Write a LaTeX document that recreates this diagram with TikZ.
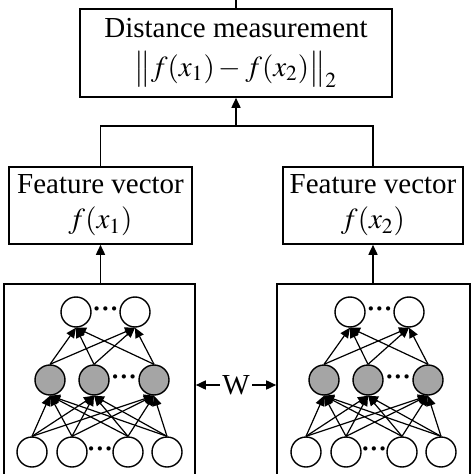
\documentclass[tikz,border=0pt]{standalone}
\usepackage{mathptmx}
\usepackage{fontspec}
\setmainfont{Liberation Serif}
\usetikzlibrary{arrows.meta}
\definecolor{nodegray}{RGB}{165,165,165}
\tikzset{
  arr/.style={-{Triangle[length=5pt, width=4.5pt]}, line width=0.8pt},
}

\begin{document}
\begin{tikzpicture}[x=0.5pt, y=-0.5pt, line width=0.8pt,
      every node/.style={font=\fontsize{14.5}{17.5}\selectfont},
      box/.style={draw, line width=0.8pt, align=center, inner sep=0pt},
      neuron/.style={circle, draw, line width=0.7pt, fill=white,
                     minimum size=15pt, inner sep=0pt},
      hidden/.style={neuron, fill=nodegray},
      dots/.style={font=\fontsize{13}{13}\selectfont\bfseries, inner sep=0pt},
    ]
    \clip (0,0) rectangle (474,474);

    % ─── Distance measurement (top) ────────────────────────────────────
    \node[box, minimum width=156pt, minimum height=44pt] (dist) at (236,53)
      {Distance measurement\\[2pt]
       $\bigl\| f(x_1)-f(x_2) \bigr\|_2$};
    \coordinate (top) at (236,0);
    \draw (dist.north) -- (top);

    % ─── Feature vectors ───────────────────────────────────────────────
    \node[box, minimum width=91.5pt, minimum height=38.5pt] (feat1) at (100.5,205.5)
      {Feature vector\\ $f(x_1)$};
    \node[box, minimum width=90pt, minimum height=38.5pt] (feat2) at (373,205.5)
      {Feature vector\\ $f(x_2)$};

    \coordinate (jn) at (236,126);
    \draw (feat1.north) |- (jn) -| (feat2.north);
    \draw[arr] (jn) -- (dist.south);

    % ─── Two networks sharing weights ──────────────────────────────────
    \node[box, minimum width=95.5pt, minimum height=103pt] (nn1) at (99.5,387) {};
    \node[box, minimum width=96.5pt, minimum height=103pt] (nn2) at (373.5,387) {};
    \draw[arr] (nn1.north -| feat1.south) -- (feat1.south);
    \draw[arr] (nn2.north -| feat2.south) -- (feat2.south);

    \node[inner sep=1pt] (w) at (236,385) {W};
    \draw[arr] (w.west) -- (w.west -| nn1.east);
    \draw[arr] (w.east) -- (w.east -| nn2.west);

    \foreach \s/\dx in {l/0, r/274} {
      % output layer
      \node[neuron] (\s-t1) at (76+\dx,312) {};
      \node[neuron] (\s-t2) at (135+\dx,312) {};
      \node[dots] (\s-td) at (105.5+\dx,312) {···};
      % hidden layer
      \node[hidden] (\s-m1) at (50+\dx,380) {};
      \node[hidden] (\s-m2) at (94+\dx,380) {};
      \node[hidden] (\s-m3) at (154+\dx,380) {};
      \node[dots] (\s-md) at (124+\dx,380) {···};
      % input layer
      \node[neuron] (\s-b1) at (32+\dx,452) {};
      \node[neuron] (\s-b2) at (72+\dx,452) {};
      \node[neuron] (\s-b3) at (128+\dx,452) {};
      \node[neuron] (\s-b4) at (167+\dx,452) {};
      \node[dots] (\s-bd) at (100+\dx,452) {···};
      % connections
      \foreach \i in {1,...,4}
        \foreach \j in {1,2,3}
          \draw[arr, line width=0.6pt] (\s-b\i.north) -- (\s-m\j.south);
      \foreach \j in {1,2,3}
        \foreach \k in {1,2}
          \draw[arr, line width=0.6pt] (\s-m\j.north) -- (\s-t\k.south);
    }

  \end{tikzpicture}
\end{document}
